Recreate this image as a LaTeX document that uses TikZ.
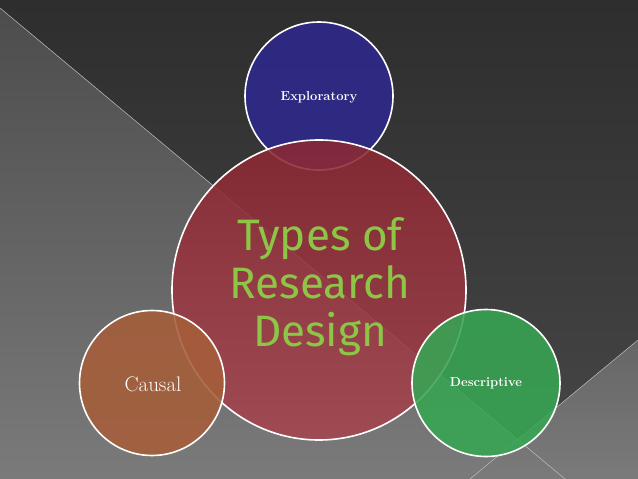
\documentclass[tikz,border=0pt]{standalone}
\usepackage{fontspec}
\usetikzlibrary{shapes.geometric}
\newfontfamily\comic{Fira Sans}
\begin{document}
\begin{tikzpicture}[x=1pt,y=-1pt,
  bub/.style={draw=white,line width=1.6pt,fill opacity=0.88,ellipse,inner sep=0pt},
  lab/.style={text=white,font=\bfseries\fontsize{13}{15}\selectfont}]
\useasboundingbox (0,0) rectangle (638,479);
\fill[top color=black!82, bottom color=black!72] (0,0) rectangle (638,479);
\shade[top color=black!70, bottom color=black!52] (0,8) -- (565,479) -- (0,479) -- cycle;
\shade[top color=black!60, bottom color=black!52] (638,340) -- (638,479) -- (470,479) -- cycle;
\draw[white!50!gray,line width=0.5pt] (0,8) -- (565,479);
\draw[white!50!gray,line width=0.5pt] (638,340) -- (470,479);
\node[bub,fill={rgb,255:red,46;green,40;blue,140},minimum width=148pt,minimum height=148pt] (exp) at (319,96) {};
\node[bub,top color={rgb,255:red,140;green,40;blue,50},bottom color={rgb,255:red,165;green,70;blue,80},minimum width=294pt,minimum height=300pt] (main) at (319,290) {};
\node[bub,fill={rgb,255:red,166;green,94;blue,58},minimum width=145pt,minimum height=145pt] (cau) at (152,383) {};
\node[bub,fill={rgb,255:red,55;green,165;blue,82},minimum width=148pt,minimum height=147pt] (des) at (486,383) {};
\node[lab] (t1) at (319,97) {Exploratory};
\node[lab] (t3) at (486,383) {Descriptive};
\node[text=white,font=\fontsize{21}{24}\selectfont] (t4) at (153,384) {Causal};
\node[text={rgb,255:red,141;green,198;blue,70},font=\comic\fontsize{44}{48}\selectfont,align=center] (t2) at (320,287) {Types of\\Research\\Design};
\end{tikzpicture}
\end{document}
